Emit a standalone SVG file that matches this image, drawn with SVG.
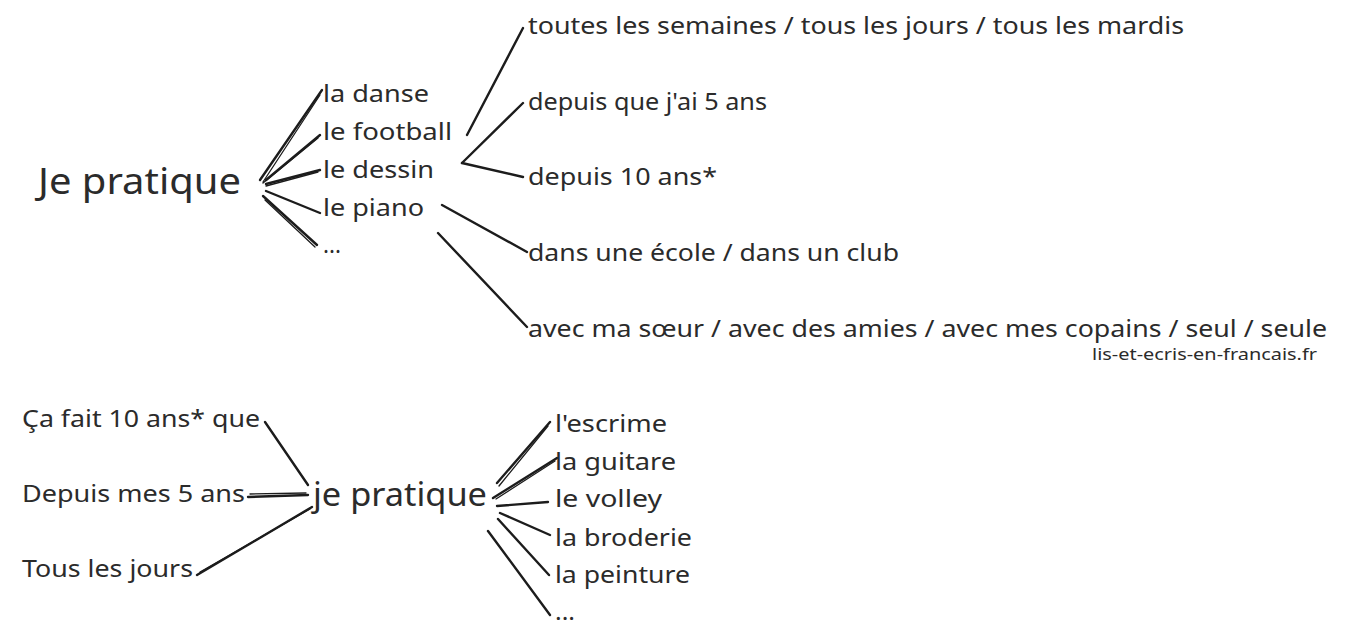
<svg xmlns="http://www.w3.org/2000/svg" width="1356" height="633" viewBox="0 0 1356 633">
<style>
text{font-family:"Noto Sans","Open Sans",sans-serif;fill:#2b2b2b;font-size:23px}
.big{font-size:37px}
.mid{font-size:32px}
.small{font-size:16px}
.c line{stroke:#1c1c1c;stroke-width:2.4;stroke-linecap:round}
.c .t{stroke-width:1.3}
</style>
<rect width="1356" height="633" fill="#fff"/>
<g class="c" id="connectors">
<line x1="260" y1="180" x2="322" y2="90"/><line class="t" x1="263" y1="182" x2="320" y2="95"/>
<line x1="266" y1="180" x2="320" y2="135"/><line class="t" x1="263" y1="183" x2="318" y2="138"/>
<line x1="266" y1="184" x2="320" y2="170"/><line class="t" x1="266" y1="186" x2="318" y2="172"/>
<line x1="266" y1="191" x2="320" y2="213"/>
<line x1="263" y1="196" x2="317" y2="245"/><line class="t" x1="265" y1="200" x2="315" y2="247"/>
<line x1="467" y1="135" x2="523" y2="28"/>
<line x1="462" y1="163" x2="523" y2="103"/>
<line x1="462" y1="163" x2="523" y2="177"/>
<line x1="442" y1="205" x2="527" y2="252"/>
<line x1="438" y1="233" x2="527" y2="327"/>
<line x1="265" y1="422" x2="308" y2="485"/>
<line x1="248" y1="497" x2="308" y2="495"/><line class="t" x1="250" y1="494" x2="306" y2="493"/>
<line x1="197" y1="575" x2="312" y2="507"/><line class="t" x1="200" y1="572" x2="310" y2="509"/>
<line x1="497" y1="483" x2="550" y2="422"/><line class="t" x1="499" y1="486" x2="548" y2="426"/>
<line x1="493" y1="498" x2="557" y2="458"/><line class="t" x1="496" y1="499" x2="555" y2="461"/>
<line x1="497" y1="506" x2="548" y2="502"/>
<line x1="500" y1="513" x2="550" y2="535"/>
<line x1="498" y1="519" x2="549" y2="575"/>
<line x1="488" y1="531" x2="550" y2="615"/>
</g>
<g id="je-pratique-top"><text class="big" x="38" y="194" textLength="203" lengthAdjust="spacingAndGlyphs">Je pratique</text></g>
<g id="la-danse"><text x="323" y="102" textLength="106" lengthAdjust="spacingAndGlyphs">la danse</text></g>
<g id="le-football"><text x="323" y="140" textLength="129" lengthAdjust="spacingAndGlyphs">le football</text></g>
<g id="le-dessin"><text x="323" y="178" textLength="111" lengthAdjust="spacingAndGlyphs">le dessin</text></g>
<g id="le-piano"><text x="323" y="216" textLength="101" lengthAdjust="spacingAndGlyphs">le piano</text></g>
<g id="etc-top"><text x="323" y="253" textLength="18" lengthAdjust="spacingAndGlyphs">...</text></g>
<g id="toutes"><text x="528" y="34" textLength="656" lengthAdjust="spacingAndGlyphs">toutes les semaines / tous les jours / tous les mardis</text></g>
<g id="depuis-que"><text x="528" y="110" textLength="239" lengthAdjust="spacingAndGlyphs">depuis que j'ai 5 ans</text></g>
<g id="depuis-10"><text x="528" y="185" textLength="189" lengthAdjust="spacingAndGlyphs">depuis 10 ans*</text></g>
<g id="dans"><text x="528" y="261" textLength="371" lengthAdjust="spacingAndGlyphs">dans une école / dans un club</text></g>
<g id="avec"><text x="528" y="337" textLength="799" lengthAdjust="spacingAndGlyphs">avec ma sœur / avec des amies / avec mes copains / seul / seule</text></g>
<g id="site"><text class="small" x="1092" y="360" textLength="225" lengthAdjust="spacingAndGlyphs">lis-et-ecris-en-francais.fr</text></g>
<g id="ca-fait"><text x="22" y="427" textLength="238" lengthAdjust="spacingAndGlyphs">Ça fait 10 ans* que</text></g>
<g id="depuis-mes"><text x="22" y="502" textLength="223" lengthAdjust="spacingAndGlyphs">Depuis mes 5 ans</text></g>
<g id="tous-les-jours"><text x="22" y="577" textLength="171" lengthAdjust="spacingAndGlyphs">Tous les jours</text></g>
<g id="je-pratique-bottom"><text class="mid" x="313" y="506" textLength="174" lengthAdjust="spacingAndGlyphs">je pratique</text></g>
<g id="escrime"><text x="555" y="432" textLength="112" lengthAdjust="spacingAndGlyphs">l'escrime</text></g>
<g id="guitare"><text x="555" y="470" textLength="121" lengthAdjust="spacingAndGlyphs">la guitare</text></g>
<g id="volley"><text x="555" y="507" textLength="107" lengthAdjust="spacingAndGlyphs">le volley</text></g>
<g id="broderie"><text x="555" y="546" textLength="137" lengthAdjust="spacingAndGlyphs">la broderie</text></g>
<g id="peinture"><text x="555" y="583" textLength="135" lengthAdjust="spacingAndGlyphs">la peinture</text></g>
<g id="etc-bottom"><text x="555" y="620" textLength="20" lengthAdjust="spacingAndGlyphs">...</text></g>
</svg>
